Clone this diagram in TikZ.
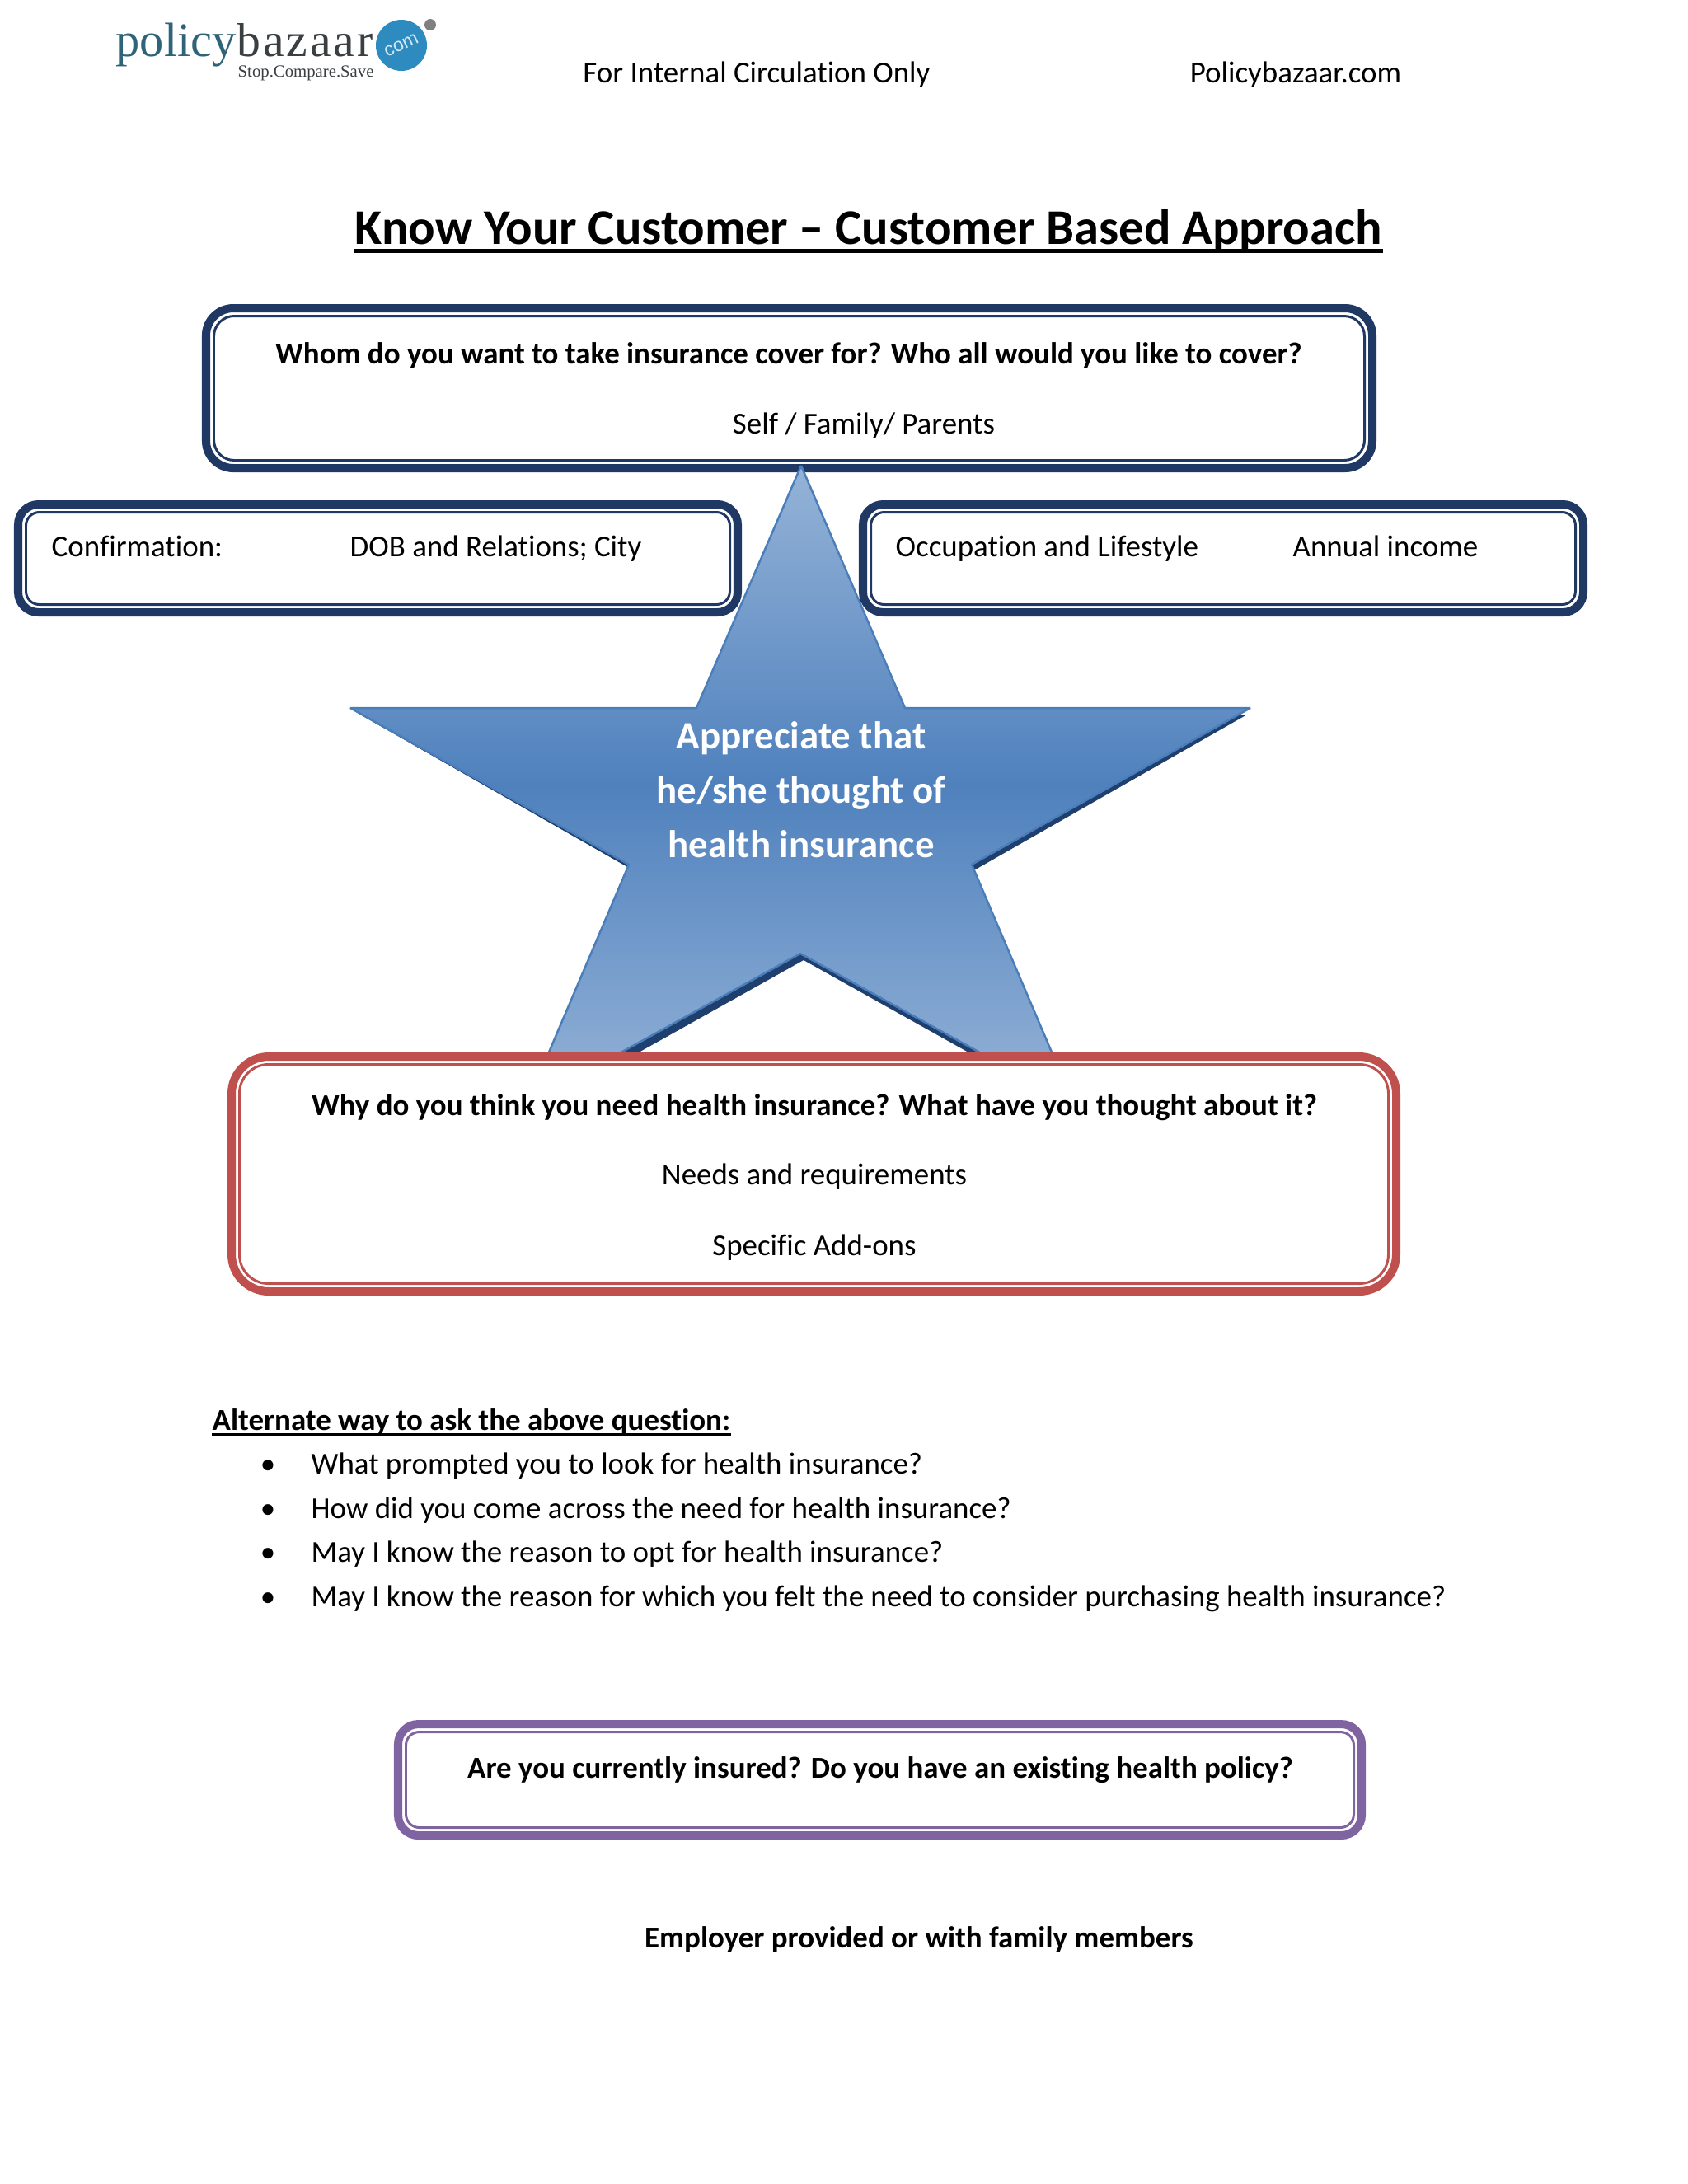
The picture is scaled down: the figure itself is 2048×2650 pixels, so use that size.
\documentclass[tikz,border=0pt]{standalone}
\usepackage{fontspec}
\setmainfont[Ligatures=NoCommon]{Carlito}
\newfontfamily\logofont[LetterSpace=5]{Liberation Serif}
\newfontfamily\logosmall{Liberation Serif}
\newfontfamily\logosans{Liberation Sans}
\definecolor{navyline}{HTML}{1F3864}
\definecolor{redline}{HTML}{C0504D}
\definecolor{purpleline}{HTML}{8064A2}
\definecolor{starlight}{HTML}{95B3D7}
\definecolor{stardark}{HTML}{4F81BD}
\definecolor{staredge}{HTML}{4A7EBB}
\definecolor{starshadow}{HTML}{1F3F6E}
\definecolor{logoteal}{HTML}{2F6478}
\definecolor{logodark}{HTML}{3A3F42}
\definecolor{logoblue}{HTML}{2E8BC0}
\tikzset{
  x=0.01cm,y=-0.01cm,
  outerframe/.style={draw=#1,line width=2.85pt,fill=white},
  innerframe/.style={draw=#1,line width=0.85pt},
  body/.style={inner sep=0pt,font=\fontsize{10.5pt}{12.5pt}\selectfont,text=black},
  head/.style={body,font=\fontsize{10.5pt}{12.5pt}\selectfont\bfseries},
  startext/.style={inner sep=0pt,font=\fontsize{13.33pt}{16pt}\selectfont\bfseries,text=white},
  rulethick/.style={line width=1.4pt,black},
  rulethin/.style={line width=0.8pt,black},
}
% x1 y1 x2 y2 colour outer-radius inner-radius
\newcommand{\panel}[7]{%
  \path[outerframe=#5,rounded corners=#6] (#1+5,#2+5) rectangle (#3-5,#4-5);
  \path[innerframe=#5,rounded corners=#7] (#1+14.5,#2+14.5) rectangle (#3-14.5,#4-14.5);
}
\begin{document}
\begin{tikzpicture}
\useasboundingbox (0,0) rectangle (2048,2650);
% logo
\node[anchor=base west,inner sep=0pt,text=logoteal,font=\logosmall\fontsize{16.6pt}{18pt}\selectfont] (logoa) at (140,68) {policy};
\node[anchor=base west,inner sep=0pt,text=logodark,font=\logofont\fontsize{16.4pt}{18pt}\selectfont] (logob) at (287,68) {bazaar};
\node[anchor=base west,inner sep=0pt,text=logodark,font=\logosmall\fontsize{5.9pt}{7pt}\selectfont] (logoc) at (288,93) {Stop.Compare.Save};
\fill[logoblue] (487,55) circle (31);
\node[rotate=25,inner sep=0pt,text=white!80!logoblue,font=\logosans\fontsize{6.5pt}{7pt}\selectfont] (logod) at (487,55) {com};
\fill[gray] (522,30) circle (7);
% header
\node[body,anchor=base] (hdra) at (918,100) {For Internal Circulation Only};
\node[body,anchor=base] (hdrb) at (1572,100) {Policybazaar.com};
\node[anchor=base,inner sep=0pt,font=\fontsize{17.22pt}{20pt}\selectfont\bfseries] (title) at (1054,296) {Know Your Customer -- Customer Based Approach};
\draw[rulethick] ([yshift=-2.4pt]title.base west) -- ([yshift=-2.4pt]title.base east);
% upper panels
\panel{245}{369}{1670}{573}{navyline}{9.4pt}{7pt}
\panel{17}{607}{900}{748}{navyline}{7pt}{4.6pt}
\panel{1042}{607}{1926}{748}{navyline}{7pt}{4.6pt}
\node[head,anchor=base] (whom) at (957,441) {Whom do you want to take insurance cover for? Who all would you like to cover?};
\node[body,anchor=base] (self) at (1048,526) {Self / Family/ Parents};
\node[body,anchor=base west] (conf) at (62,675) {Confirmation:};
\node[body,anchor=base west] (dob) at (424,675) {DOB and Relations; City};
\node[body,anchor=base west] (occ) at (1086,675) {Occupation and Lifestyle};
\node[body,anchor=base west] (inc) at (1568,675) {Annual income};
% star
\fill[starshadow] (972,575) -- (1098,867) -- (1513,867) -- (1180,1057) -- (1302,1348) -- (975,1165) -- (648,1348) -- (770,1057) -- (437,867) -- (850,867) -- cycle;
\shade[top color=starlight,bottom color=starlight,middle color=stardark,draw=staredge,line width=0.7pt,line join=bevel] (972,565) -- (1098,859) -- (1517,859) -- (1179,1049) -- (1303,1340) -- (971,1157) -- (639,1340) -- (763,1049) -- (425,859) -- (845,859) -- cycle;
\node[startext,anchor=base] (stara) at (972,908) {Appreciate that};
\node[startext,anchor=base] (starb) at (972,974) {he/she thought of};
\node[startext,anchor=base] (starc) at (972,1040) {health insurance};
% red panel
\panel{276}{1277}{1699}{1572}{redline}{12.8pt}{10pt}
\node[head,anchor=base] (why) at (988,1353) {Why do you think you need health insurance? What have you thought about it?};
\node[body,anchor=base] (needs) at (988,1437) {Needs and requirements};
\node[body,anchor=base] (addons) at (988,1523) {Specific Add-ons};
% list
\node[head,anchor=base west] (alt) at (257,1735) {Alternate way to ask the above question:};
\draw[rulethin] ([yshift=-1.5pt]alt.base west) -- ([yshift=-1.5pt]alt.base east);
\foreach \yy/\nm/\tx in {1788/qa/What prompted you to look for health insurance?,
  1842/qb/How did you come across the need for health insurance?,
  1895/qc/May I know the reason to opt for health insurance?,
  1949/qd/May I know the reason for which you felt the need to consider purchasing health insurance?}{
  \node[body,anchor=base] (\nm dot) at (325,\yy) {•};
  \node[body,anchor=base west] (\nm) at (377,\yy) {\tx};
}
% purple panel
\panel{478}{2087}{1657}{2232}{purpleline}{7pt}{4.6pt}
\node[head,anchor=base] (cur) at (1068,2157) {Are you currently insured? Do you have an existing health policy?};
\node[head,anchor=base] (emp) at (1115,2363) {Employer provided or with family members};
\end{tikzpicture}
\end{document}
